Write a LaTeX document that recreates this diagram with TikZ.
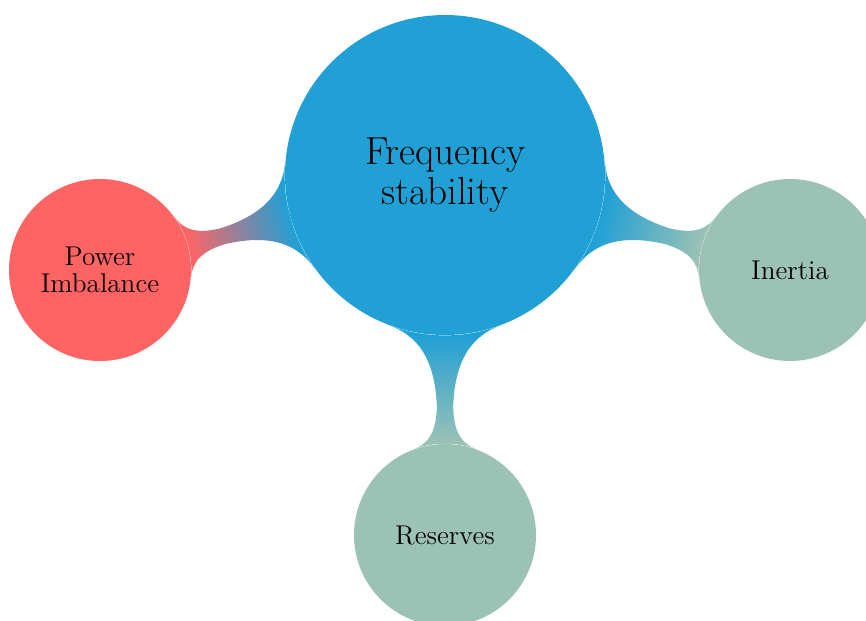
\documentclass[tikz,border=0pt]{standalone}
\usetikzlibrary{mindmap}
\definecolor{cblue}{HTML}{21A0D5}
\definecolor{cred}{HTML}{FF6464}
\definecolor{cgreen}{HTML}{9BC2B5}
\pgfdeclarelayer{background}
\pgfsetlayers{background,main}
\begin{document}
\begin{tikzpicture}[x=0.53pt,y=-0.53pt,
  bub/.style={circle,inner sep=0pt,align=center,text=black},
  big/.style={bub,fill=cblue,minimum size=320*0.53pt,font=\huge},
  small/.style={bub,minimum size=182*0.53pt,font=\Large}]
\useasboundingbox (0,0) rectangle (866,620);
\begin{scope}
\clip (0,0) rectangle (866,620);
\node[big] (c) at (445,175) {Frequency\\[-4pt]stability};
\node[small,fill=cred] (p) at (100,270) {Power\\[-4pt]Imbalance};
\node[small,fill=cgreen] (i) at (790,270) {Inertia};
\node[small,fill=cgreen] (r) at (445,535) {Reserves};
\begin{pgfonlayer}{background}
\path (c) to[circle connection bar switch color=from (cblue) to (cred)] (p);
\path (c) to[circle connection bar switch color=from (cblue) to (cgreen)] (i);
\path (c) to[circle connection bar switch color=from (cblue) to (cgreen)] (r);
\end{pgfonlayer}
\end{scope}
\end{tikzpicture}
\end{document}
